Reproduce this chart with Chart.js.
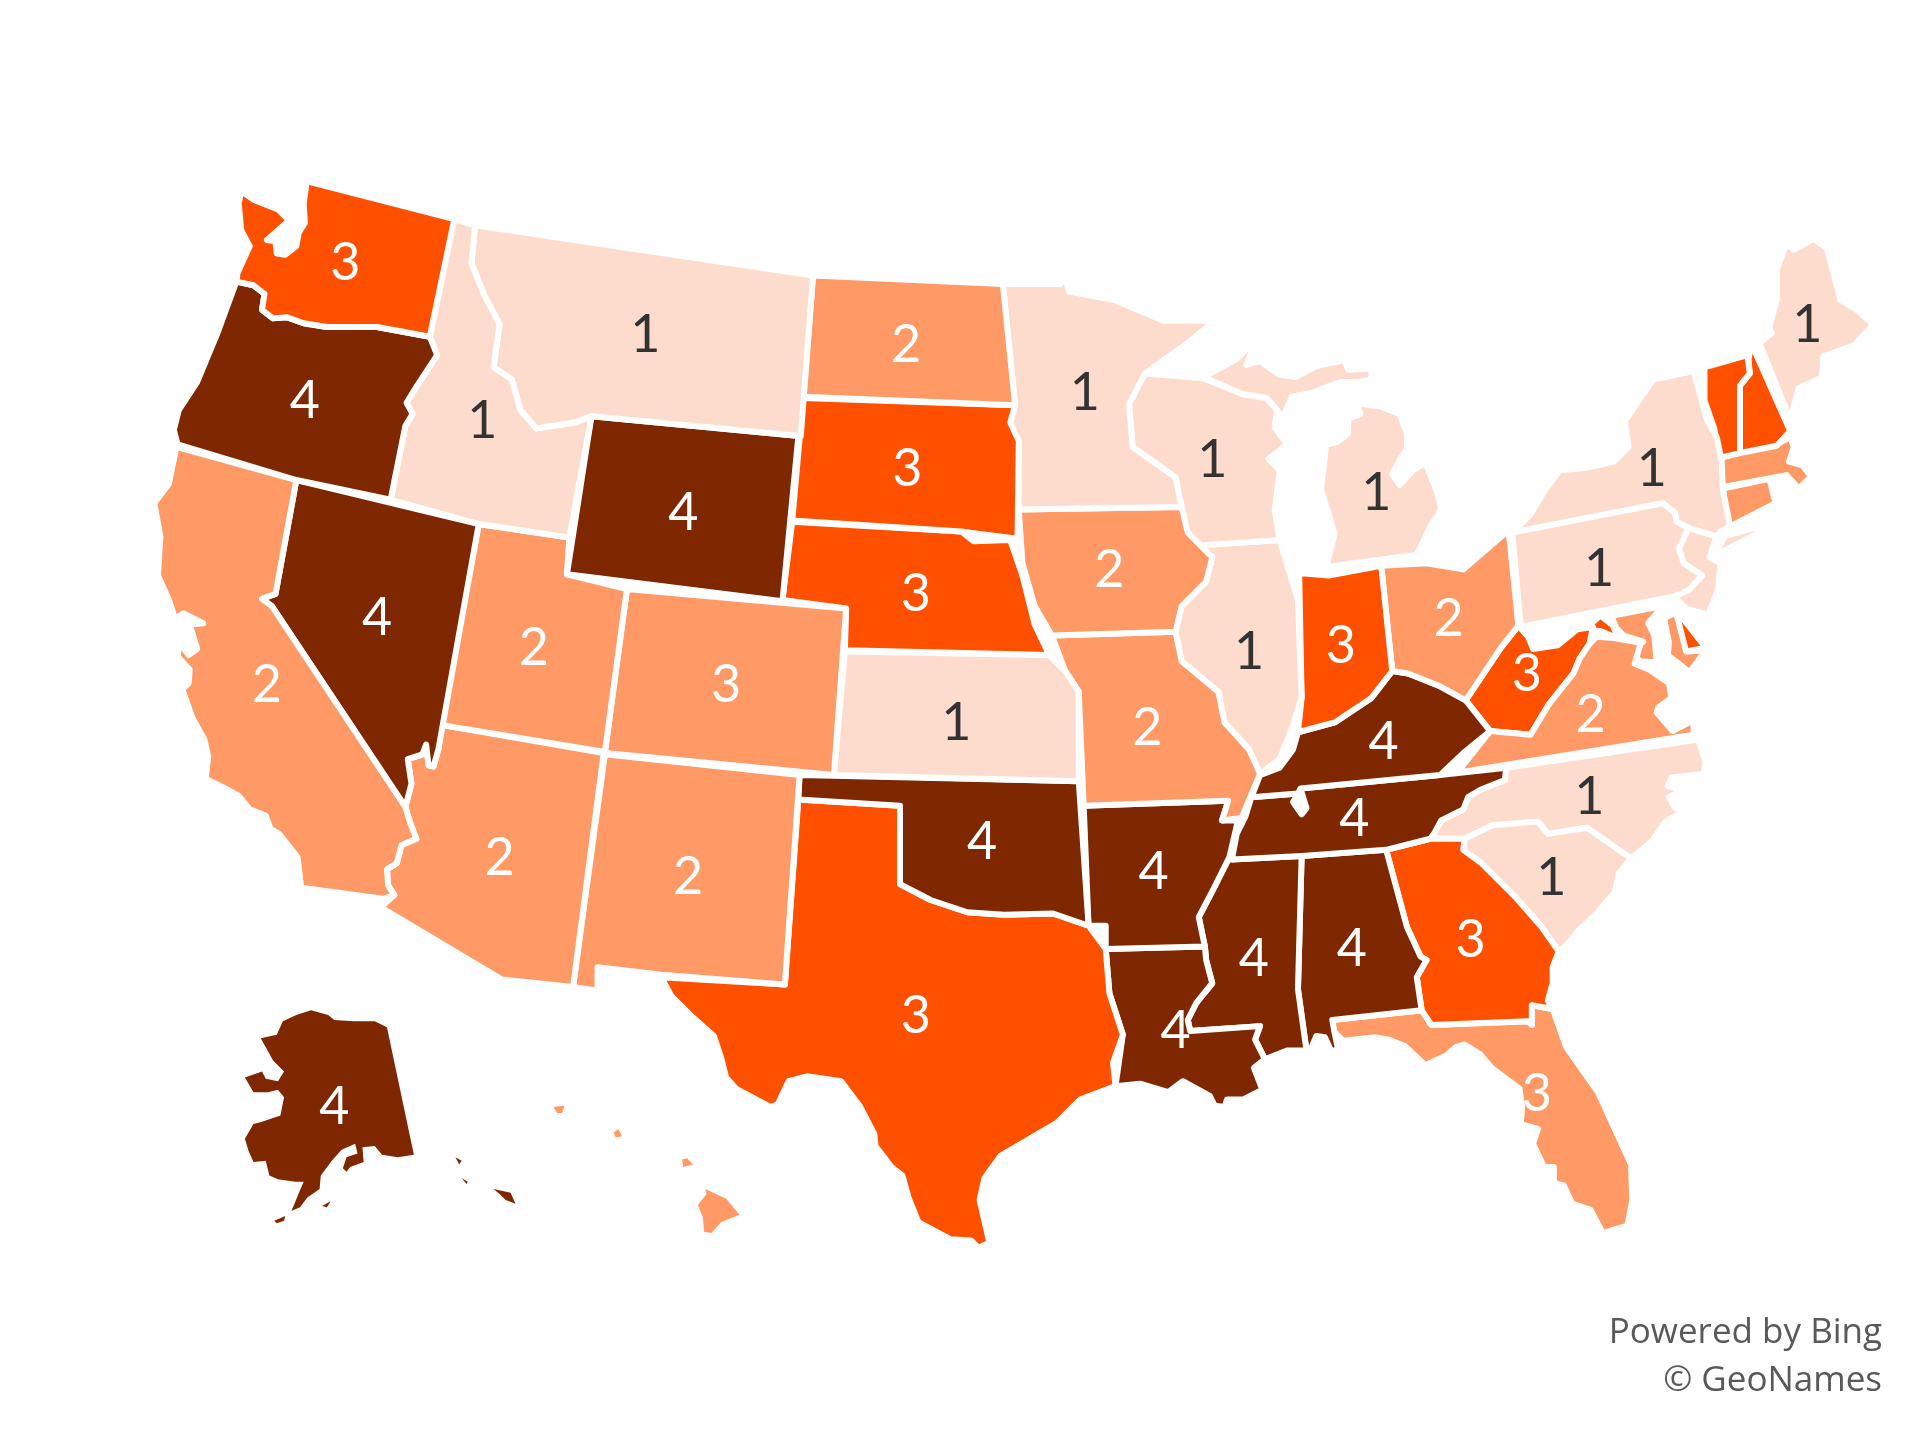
<!DOCTYPE html>
<html>
<head>
<meta charset="utf-8">
<style>html,body{margin:0;background:#fff}#wrap{width:1920px;height:1440px}</style>
<script src="https://cdn.jsdelivr.net/npm/chart.js@4"></script>
</head>
<body>
<div id="wrap"><canvas id="map" width="1920" height="1440"></canvas></div>
<script>
// outlines, in map units (x right, y down)
const WA = [[197,156],[207,163],[227,171],[236,180],[218,196],[225,197],[226,207],[233,208],[242,201],[244,190],[249,182],[248,166],[250,152],[247,147],[371,179],[351,275],[308,267],[267,267],[248,264],[234,259],[223,260],[214,253],[216,240],[207,233],[193,230],[194,223],[199,212],[204,201],[197,188],[195,166]];
const OR = [[193,230],[207,233],[216,240],[214,253],[223,260],[234,259],[248,264],[267,267],[308,267],[351,275],[357,290],[340,316],[332,329],[337,338],[331,348],[319,408],[242,392],[145,363],[142,351],[146,335],[161,312],[178,271]];
const CA = [[144,365],[242,392],[225,485],[214,489],[222,495],[331,659],[335,672],[340,685],[328,690],[324,705],[316,710],[317,723],[322,731],[313,734],[246,725],[243,700],[228,681],[221,677],[217,666],[204,661],[195,650],[188,646],[168,636],[170,618],[167,604],[157,586],[149,563],[154,558],[155,547],[145,536],[147,525],[154,535],[161,530],[155,510],[166,509],[150,501],[143,505],[138,490],[129,470],[131,438],[126,411],[138,395]];
const NV = [[242,392],[391,428],[358,612],[354,626],[350,625],[348,608],[345,616],[333,620],[336,640],[331,659],[222,495],[214,489],[225,485]];
const ID = [[371,179],[388,184],[385,215],[395,240],[408,265],[403,300],[418,310],[425,335],[438,350],[470,345],[483,340],[465,439],[391,428],[319,408],[331,348],[337,338],[332,329],[340,316],[357,290],[351,275]];
const MT = [[388,184],[664,225],[654,356],[483,340],[470,345],[438,350],[425,335],[418,310],[403,300],[408,265],[395,240],[385,215]];
const WY = [[483,340],[652,356],[639,491],[463,469]];
const UT = [[391,428],[465,439],[463,469],[512,481],[494,614],[360,592]];
const CO = [[512,481],[691,497],[681,633],[494,615]];
const AZ = [[360,592],[493,615],[468,806],[410,800],[311,741],[322,731],[317,723],[316,710],[324,705],[328,690],[340,685],[335,672],[331,659],[336,640],[333,620],[345,616],[348,608],[350,625],[354,626],[358,612]];
const NM = [[494,616],[653,633],[641,804],[540,796],[488,790],[488,809],[468,806]];
const ND = [[664,225],[819,232],[829,331],[656,324]];
const SD = [[656,325],[829,331],[825,345],[832,360],[831,440],[800,436],[785,434],[647,425]];
const NE = [[647,426],[785,434],[795,442],[825,441],[835,470],[845,510],[857,535],[690,531],[691,497],[639,490]];
const KS = [[690,532],[857,535],[870,548],[881,565],[881,638],[681,633]];
const OK = [[653,633],[881,638],[889,756],[860,746],[820,747],[790,745],[760,735],[735,722],[735,658],[652,653]];
const TX = [[652,653],[735,658],[735,722],[760,735],[790,745],[820,747],[860,746],[889,756],[903,775],[906,811],[917,845],[909,868],[911,887],[882,898],[863,917],[817,944],[804,962],[800,980],[808,1015],[799,1019],[793,1013],[776,1012],[750,998],[742,978],[737,960],[728,953],[715,936],[714,926],[702,903],[687,883],[659,879],[644,883],[635,902],[629,904],[601,889],[593,880],[589,864],[583,846],[566,831],[548,813],[540,798],[641,804]];
const MN = [[819,232],[866,232],[868,221],[873,238],[910,245],[950,262],[992,262],[970,280],[935,305],[922,330],[925,365],[960,390],[965,414],[832,416],[832,360],[825,345],[829,331]];
const IA = [[832,416],[965,414],[970,435],[990,455],[985,475],[965,495],[960,516],[859,519],[845,495],[835,460]];
const MO = [[859,519],[960,516],[965,540],[995,565],[1000,590],[1020,612],[1029,632],[1021,651],[1014,668],[998,670],[1003,654],[885,658],[881,565],[870,548]];
const AR = [[885,658],[1003,654],[998,670],[1011,670],[1004,700],[992,724],[979,749],[984,773],[903,775],[903,756],[889,756]];
const LA = [[903,775],[984,773],[985,784],[990,803],[977,819],[970,833],[972,842],[1029,838],[1025,849],[1033,865],[1024,872],[1031,890],[1015,898],[1002,898],[1000,904],[992,903],[988,895],[966,883],[954,892],[931,885],[911,887],[917,845],[906,811]];
const WI = [[922,330],[935,305],[983,309],[1015,322],[1034,325],[1043,335],[1041,349],[1051,363],[1036,375],[1045,384],[1041,417],[1045,441],[972,446],[965,414],[960,390],[925,365]];
const MI_UP = [[983,308],[1010,293],[1026,277],[1018,298],[1029,295],[1045,306],[1058,308],[1075,299],[1098,294],[1101,302],[1120,301],[1120,310],[1109,312],[1094,312],[1071,321],[1055,324],[1047,343],[1043,335],[1034,325],[1015,322]];
const MI_LP = [[1108,329],[1127,332],[1143,338],[1149,354],[1149,366],[1143,376],[1137,387],[1143,396],[1154,384],[1164,378],[1173,400],[1177,416],[1168,430],[1157,453],[1083,463],[1090,436],[1079,400],[1083,363],[1092,361],[1101,354],[1101,342],[1111,338]];
const IL = [[972,446],[1045,441],[1060,490],[1063,570],[1055,595],[1045,620],[1029,632],[1020,612],[1000,590],[995,565],[965,540],[960,516],[965,495],[985,475],[990,455]];
const IN = [[1061,468],[1085,470],[1128,462],[1137,548],[1120,570],[1090,590],[1060,598],[1063,570]];
const OH = [[1128,462],[1165,460],[1195,465],[1232,433],[1240,511],[1225,530],[1215,545],[1197,572],[1175,560],[1150,550],[1137,548]];
const KY = [[1022,651],[1029,633],[1045,627],[1056,612],[1060,598],[1090,590],[1120,570],[1137,548],[1150,550],[1175,560],[1197,572],[1217,597],[1195,615],[1176,633],[1062,644],[1060,648]];
const TN = [[1022,651],[1060,648],[1056,655],[1063,665],[1067,660],[1062,644],[1176,633],[1230,627],[1229,637],[1209,645],[1199,651],[1195,661],[1177,670],[1171,681],[1168,685],[1132,694],[1063,699],[1006,702],[1010,681],[1017,667]];
const MS = [[1006,702],[1063,699],[1060,808],[1067,858],[1051,858],[1033,865],[1025,849],[1029,838],[972,842],[970,833],[977,819],[990,803],[985,784],[984,773],[979,749],[992,724],[1004,700]];
const AL = [[1063,699],[1132,694],[1149,757],[1160,781],[1165,784],[1157,798],[1161,825],[1088,833],[1090,844],[1093,858],[1087,858],[1082,847],[1075,846],[1070,858],[1067,858],[1060,808]];
const GA = [[1132,694],[1168,685],[1196,685],[1195,694],[1210,705],[1237,732],[1259,757],[1273,777],[1268,790],[1268,803],[1264,817],[1268,824],[1251,821],[1251,837],[1248,834],[1169,837],[1161,825],[1157,798],[1165,784],[1160,781],[1149,757]];
const FL = [[1088,833],[1161,825],[1169,837],[1248,834],[1251,837],[1251,821],[1268,824],[1279,855],[1305,892],[1332,951],[1333,980],[1329,1001],[1309,1007],[1299,988],[1284,983],[1277,968],[1269,966],[1269,953],[1261,953],[1252,934],[1256,922],[1242,918],[1243,904],[1241,889],[1230,881],[1218,872],[1209,861],[1196,853],[1189,855],[1181,862],[1164,870],[1147,854],[1134,849],[1123,847],[1097,850],[1087,840]];
const SC = [[1195,694],[1196,685],[1219,674],[1256,671],[1264,681],[1296,676],[1332,701],[1322,713],[1319,728],[1303,747],[1290,759],[1279,772],[1273,777],[1259,757],[1237,732],[1210,705]];
const NC = [[1168,685],[1171,681],[1177,670],[1195,661],[1199,651],[1209,645],[1229,637],[1230,627],[1387,604],[1393,623],[1391,632],[1365,635],[1362,642],[1375,645],[1363,651],[1368,660],[1380,660],[1360,671],[1349,687],[1332,701],[1296,676],[1264,681],[1256,671],[1219,674],[1196,685]];
const VA = [[1190,631],[1217,597],[1250,600],[1265,575],[1285,550],[1290,538],[1298,526],[1304,520],[1318,521],[1340,525],[1335,542],[1347,547],[1363,558],[1365,570],[1354,578],[1353,582],[1366,597],[1383,588],[1383,600]];
const WV = [[1197,572],[1215,545],[1225,530],[1240,511],[1248,520],[1252,530],[1272,527],[1288,514],[1301,512],[1298,526],[1290,538],[1285,550],[1265,575],[1250,600],[1217,597]];
const WV_EAST = [[1300,512],[1307,506],[1315,512],[1317,517],[1308,513]];
const PA = [[1235,435],[1358,411],[1368,419],[1369,426],[1379,431],[1371,448],[1375,460],[1390,470],[1379,482],[1367,487],[1242,512]];
const NY = [[1235,435],[1250,420],[1262,400],[1274,384],[1296,382],[1318,377],[1330,365],[1327,344],[1350,310],[1383,303],[1394,343],[1402,357],[1406,376],[1407,400],[1413,430],[1405,434],[1402,438],[1379,431],[1369,426],[1368,419],[1358,411]];
const NY_LI = [[1406,448],[1435,433],[1410,440]];
const NJ = [[1379,431],[1402,438],[1396,455],[1405,460],[1403,482],[1395,502],[1377,497],[1367,487],[1379,482],[1390,470],[1375,460],[1371,448]];
const VT = [[1392,300],[1427,290],[1429,305],[1421,315],[1421,370],[1404,374],[1400,350],[1392,327]];
const NH = [[1430,280],[1462,352],[1451,364],[1421,370],[1421,315],[1429,305],[1428,294]];
const ME = [[1459,199],[1465,204],[1481,195],[1492,203],[1503,245],[1515,252],[1530,265],[1514,282],[1489,291],[1488,308],[1469,317],[1462,343],[1437,280],[1447,272],[1445,267],[1451,245],[1451,220]];
const MA = [[1405,372],[1451,363],[1462,357],[1465,365],[1461,377],[1472,380],[1479,389],[1469,399],[1459,388],[1405,398]];
const CT = [[1407,399],[1445,391],[1450,411],[1411,431]];
const RI = [[1451,392],[1456,391],[1458,406],[1454,408]];
const DE = [[1368,497],[1393,529],[1377,532]];
const MD = [[1316,503],[1358,495],[1346,509],[1351,519],[1353,541],[1339,540],[1333,532],[1342,524],[1326,519],[1320,513]];
const MD_EAST = [[1359,505],[1369,500],[1378,532],[1393,531],[1380,549],[1362,535],[1363,525]];
const AK = [[254,825],[268,829],[273,833],[289,834],[306,834],[316,839],[338,943],[325,945],[312,943],[306,936],[296,937],[297,949],[286,953],[283,957],[280,954],[283,945],[292,942],[290,934],[279,939],[271,948],[262,960],[261,971],[251,978],[245,986],[238,989],[245,972],[248,965],[241,965],[227,963],[220,960],[217,948],[207,949],[203,940],[200,930],[207,918],[214,916],[229,911],[232,896],[227,890],[219,892],[207,892],[200,880],[214,875],[217,881],[227,883],[232,875],[223,866],[213,848],[226,845],[231,834],[242,829]];
const AK_KODIAK = [[224,997],[233,993],[232,997],[226,999]];
const AK_NUNIVAK = [[263,985],[270,981],[267,986]];
const AK_ISLE_1 = [[403,971],[417,974],[421,983],[413,980],[408,975]];
const AK_ISLE_2 = [[377,962],[382,965],[381,967]];
const AK_ISLE_3 = [[372,945],[377,948],[375,951]];
const HI_BIG = [[576,971],[593,979],[604,992],[589,998],[581,1007],[575,1006],[574,994],[570,984],[577,975]];
const HI_MAUI = [[557,947],[561,946],[566,951],[558,953]];
const HI_OAHU = [[501,925],[505,922],[508,928],[503,929]];
const HI_KAUAI = [[452,904],[461,903],[459,909],[455,909]];

const mapOutlines = [WA,OR,CA,NV,ID,MT,WY,UT,CO,AZ,NM,ND,SD,NE,KS,OK,TX,MN,IA,MO,AR,LA,WI,MI_UP,MI_LP,IL,IN,OH,KY,TN,MS,AL,GA,FL,SC,NC,VA,WV,WV_EAST,PA,NY,NY_LI,NJ,VT,NH,ME,MA,CT,RI,DE,MD,MD_EAST,AK,AK_KODIAK,AK_NUNIVAK,AK_ISLE_1,AK_ISLE_2,AK_ISLE_3,HI_BIG,HI_MAUI,HI_OAHU,HI_KAUAI];
const mapLevels   = [3,4,2,4,1,1,4,2,2,2,2,2,3,3,1,4,3,1,2,2,4,4,1,1,1,1,3,2,4,4,4,4,3,2,1,1,2,3,3,1,1,1,1,3,3,1,2,2,4,3,2,2,4,4,4,4,4,4,2,2,2,2];
// these are drawn without the white outline, it would swallow them
const noOutline = [WV_EAST,AK,AK_KODIAK,AK_NUNIVAK,AK_ISLE_1,AK_ISLE_2,AK_ISLE_3,HI_BIG,HI_MAUI,HI_OAHU,HI_KAUAI,NY_LI];

const labelText = ['3','4','1','1','2','1','1','1','1','1','1','3','4','4','2','2','3','3','2','1','3','2','3','2','1','2','4','4','1','1','4','4','2','2','4','4','3','3','4','3','4'];
const labelX = [282,249,394,527,740,886,990,1124,1476,1349,1306,741,558,308,436,218,593,748,906,1020,1095,1183,1247,1299,781,937,1130,1106,1298,1267,802,942,408,562,1024,1104,1201,748,960,1255,273];
const labelY = [215,328,344,274,282,321,376,403,266,383,465,383,419,505,529,560,560,485,466,533,528,506,551,584,591,595,606,669,651,717,688,712,701,716,783,775,768,830,842,894,904];
const labelDark = ['1'];

const footerLines = ['Powered by Bing', '© GeoNames'];
const footerRight = 1537;
const footerY = [1089, 1128];

const levelColors = {1: '#FEDCCD', 2: '#FF9966', 3: '#FF5000', 4: '#7F2700'};

const textPlugin = {
    id: 'mapText',
    afterDatasetsDraw(chart) {
        const {ctx, scales: {x, y}} = chart;
        ctx.save();
        ctx.textAlign = 'center';
        ctx.textBaseline = 'middle';
        ctx.font = '52px Lato';
        labelText.forEach((txt, i) => {
            ctx.fillStyle = labelDark.includes(txt) ? '#333333' : '#FFFFFF';
            ctx.fillText(txt, x.getPixelForValue(labelX[i]), y.getPixelForValue(labelY[i]));
        });
        ctx.textAlign = 'right';
        ctx.font = '35px "Open Sans"';
        ctx.fillStyle = '#595959';
        footerLines.forEach((txt, i) => {
            ctx.fillText(txt, x.getPixelForValue(footerRight), y.getPixelForValue(footerY[i]));
        });
        ctx.restore();
    }
};

const datasets = mapOutlines.map((outline, i) => {
    const pts = outline.map(p => ({x: p[0], y: p[1]}));
    pts.push(pts[0]); // close the ring
    const bare = noOutline.includes(outline);
    return {
        data: pts,
        showLine: true,
        fill: 'shape',
        tension: 0,
        pointRadius: 0,
        backgroundColor: levelColors[mapLevels[i]],
        borderColor: bare ? levelColors[mapLevels[i]] : '#FFFFFF',
        borderWidth: bare ? 0 : 6,
        borderJoinStyle: 'round'
    };
});

new Chart(document.getElementById('map'), {
    type: 'scatter',
    data: {datasets},
    options: {
        responsive: false,
        animation: false,
        devicePixelRatio: 1,
        layout: {padding: 0},
        plugins: {legend: {display: false}, tooltip: {enabled: false}, title: {display: false}},
        scales: {
            x: {type: 'linear', min: 0, max: 1568, display: false},
            y: {type: 'linear', min: 0, max: 1176, reverse: true, display: false}
        }
    },
    plugins: [textPlugin]
});
</script>
</body>
</html>
